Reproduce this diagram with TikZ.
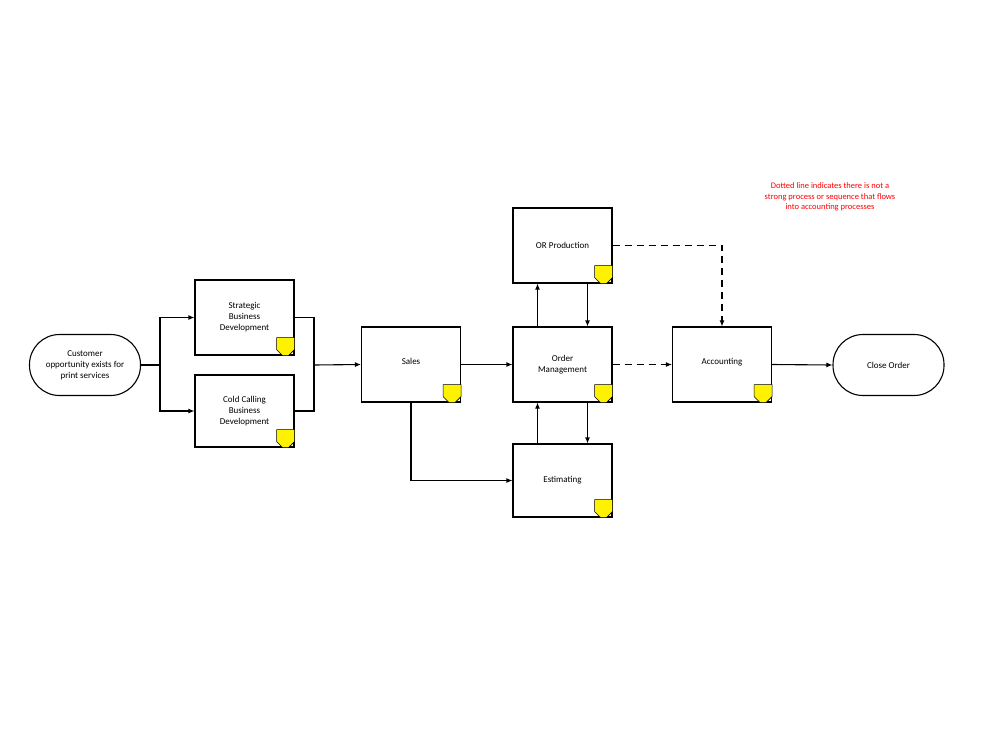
\documentclass[tikz,border=0pt]{standalone}
\usepackage{fontspec}
\setmainfont{Carlito}
\usetikzlibrary{arrows.meta}
\begin{document}
\begin{tikzpicture}[x=1pt,y=-1pt,line width=1.1pt,
  box/.style={draw,minimum width=99pt,minimum height=75pt,align=center,font=\fontsize{9}{11}\selectfont,inner sep=2pt},
  term/.style={draw,rounded corners=30pt,minimum width=111pt,minimum height=61pt,align=center,font=\fontsize{9}{11}\selectfont},
  conn/.style={-{Latex[length=6pt,width=5pt]}},
  dconn/.style={conn,dash pattern=on 7pt off 5pt},
  note/.style={fill=yellow,draw=black,line width=0.6pt}]
\useasboundingbox (0,0) rectangle (1000,750);
\node[term] (start) at (85,365) {Customer\\opportunity exists for\\print services};
\node[box] (strat) at (244.5,317.5) {Strategic\\Business\\Development};
\node[box,minimum height=72pt] (cold) at (244.5,411) {Cold Calling\\Business\\Development};
\node[box] (sales) at (411,364.5) {\raisebox{7pt}{Sales}};
\node[box] (orp) at (562.5,245.5) {OR Production};
\node[box] (om) at (562.5,364.5) {Order\\Management};
\node[box,minimum height=73pt] (est) at (562.5,480.5) {Estimating};
\node[box] (acc) at (722,364.5) {\raisebox{7pt}{Accounting}};
\node[term] (close) at (888.5,365) {Close Order};
\node[text=red,align=center,font=\fontsize{8.5}{10.5}\selectfont] (lbl) at (830,197) {Dotted line indicates there is not a\\strong process or sequence that flows\\into accounting processes};
\foreach \n in {strat,cold,sales,orp,om,est,acc}{
  \draw[note] ([shift={(-18,-18)}]\n.south east) -- ++(18,0) -- ++(0,12) -- ++(-6,6) -- ++(-6,0) -- ++(-6,-6) -- cycle;
}
\coordinate (b1) at (160,365);
\coordinate (b2) at (314,365);
\draw (start.east) -- (b1);
\draw[conn] (b1) |- (strat.west);
\draw[conn] (b1) |- (cold.west);
\draw (strat.east) -| (b2);
\draw (cold.east) -| (b2);
\draw[conn] (b2) -- (sales.west);
\draw[conn] (sales.east) -- (om.west);
\draw[conn] (sales.south) |- (est.west);
\draw[conn] ([xshift=-25pt]om.north) -- ([xshift=-25pt]orp.south);
\draw[conn] ([xshift=25pt]orp.south) -- ([xshift=25pt]om.north);
\draw[conn] ([xshift=-25pt]est.north) -- ([xshift=-25pt]om.south);
\draw[conn] ([xshift=25pt]om.south) -- ([xshift=25pt]est.north);
\draw[dconn] (orp.east) -| (acc.north);
\draw[dconn] (om.east) -- (acc.west);
\draw[conn] (acc.east) -- (close.west);
\end{tikzpicture}
\end{document}
